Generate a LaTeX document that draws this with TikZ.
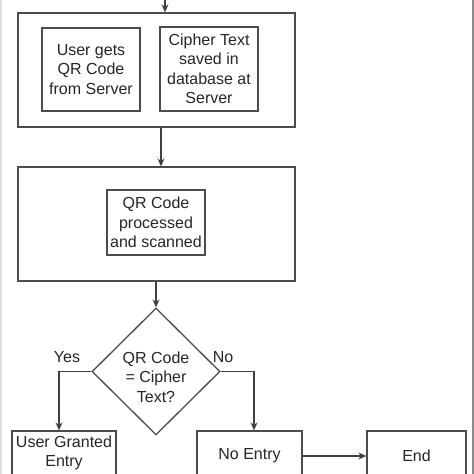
\documentclass[tikz,border=0pt]{standalone}
\usepackage{fontspec}
\setmainfont{Liberation Sans}
\usetikzlibrary{shapes.geometric,arrows.meta,calc}
\begin{document}
\begin{tikzpicture}[x=1pt,y=-1pt,
  box/.style={draw=black!70,line width=1.3pt,rectangle,inner sep=0pt,align=center,text=black!85,
    font=\fontsize{16}{19.5}\selectfont},
  dec/.style={draw=black!70,line width=1.3pt,diamond,inner sep=0pt},
  lbl/.style={text=black!85,font=\fontsize{16}{19.5}\selectfont,align=center,inner sep=0pt},
  arr/.style={draw=black!75,line width=1.1pt,-{Stealth[length=8pt,width=7pt]}}]
\useasboundingbox (0,0) rectangle (474,474);
\fill[white] (0,0) rectangle (474,474);
\draw[black!45,line width=2pt] (473,0) -- (473,474);
\draw[black!12,line width=1.5pt] (0.75,0) -- (0.75,474);
% outer boxes
\node[box,minimum width=277pt,minimum height=114pt] (o1) at (156.5,70) {};
\node[box,minimum width=98pt,minimum height=83pt] (a) at (91,69.5) {User gets\\QR Code\\from Server};
\node[box,minimum width=98pt,minimum height=84pt] (b) at (209,69) {Cipher Text\\saved in\\database at\\Server};
\node[box,minimum width=277pt,minimum height=114pt] (o2) at (156.5,224) {};
\node[box,minimum width=98pt,minimum height=65pt] (c) at (156,222.5) {QR Code\\processed\\and scanned};
% decision
\node[dec,minimum width=128pt,minimum height=127pt] (d) at (156,371.5) {};
\node[lbl] (dt) at (156,377) {QR Code\\= Cipher\\Text?};
% bottom boxes
\node[box,minimum width=104pt,minimum height=50pt] (g) at (64,456) {};
\node[lbl] (gt) at (64,453) {User Granted\\Entry};
\node[box,minimum width=105pt,minimum height=50pt] (n) at (249.5,456) {No Entry};
\node[box,minimum width=99pt,minimum height=50pt] (e) at (416.5,456) {End};
% connectors
\coordinate (top) at (165,0);
\draw[arr] (top) -- (top |- o1.north);
\draw[arr] ($(o1.south)+(4.5,0)$) -- ($(o2.north)+(4.5,0)$);
\draw[arr] (o2.south -| d.north) -- (d.north);
\coordinate (gy) at (59,0);
\coordinate (ny) at (254,0);
\draw[arr] (d.west) -| (gy |- g.north);
\draw[arr] (d.east) -| (ny |- n.north);
\draw[arr] (n.east) -- (e.west);
\node[lbl] (yes) at (67,357) {Yes};
\node[lbl] (no) at (223,357) {No};
\end{tikzpicture}
\end{document}
